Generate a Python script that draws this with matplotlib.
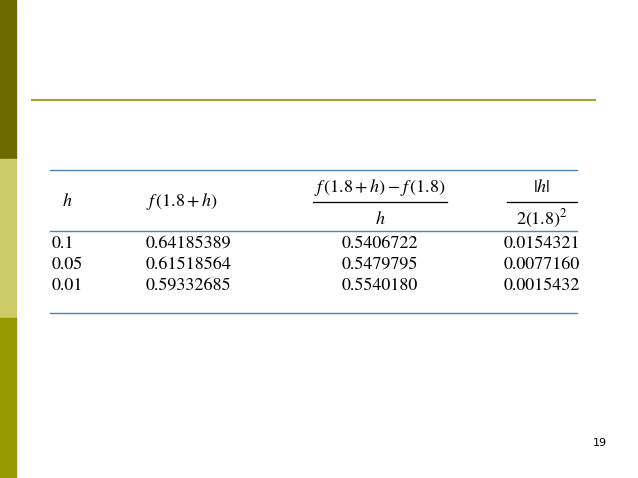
import matplotlib.pyplot as plt
from matplotlib.patches import Rectangle
from matplotlib.lines import Line2D

plt.rcParams['mathtext.fontset'] = 'stix'
plt.rcParams['font.family'] = 'STIXGeneral'

W, H = 638, 478

headers = [r"$h$", r"$f\,(1.8+h)$"]
h_vals = ["0.1", "0.05", "0.01"]
f_vals = ["0.64185389", "0.61518564", "0.59332685"]
diff_vals = ["0.5406722", "0.5479795", "0.5540180"]
err_vals = ["0.0154321", "0.0077160", "0.0015432"]
page = "19"

fig = plt.figure(figsize=(W / 100, H / 100), dpi=100)
ax = fig.add_axes([0, 0, 1, 1])
ax.set_xlim(0, W)
ax.set_ylim(H, 0)
ax.axis('off')

# left colour strip
ax.add_patch(Rectangle((0, 0), 16, 159, color='#6b6b00'))
ax.add_patch(Rectangle((0, 159), 16, 159, color='#cccc66'))
ax.add_patch(Rectangle((0, 318), 16, 160, color='#999900'))

# olive rule under title area
ax.add_line(Line2D([32, 595], [100, 100], color='#a5a52a', lw=1.5))

# table rules
for y in [170, 231, 313]:
    ax.add_line(Line2D([50, 577], [y, y], color='#4f81bd', lw=1.0))

fs = 13
ax.text(62, 202, headers[0], fontsize=fs, va='center', ha='left')
ax.text(146, 202, headers[1], fontsize=fs, va='center', ha='left')
ax.text(380, 188, r"$f\,(1.8+h)-f\,(1.8)$", fontsize=fs, va='center', ha='center')
ax.add_line(Line2D([313, 447], [202, 202], color='black', lw=0.9))
ax.text(380, 219, r"$h$", fontsize=fs, va='center', ha='center')
ax.text(542, 188, r"$|h|$", fontsize=fs, va='center', ha='center')
ax.add_line(Line2D([507, 577], [202, 202], color='black', lw=0.9))
ax.text(542, 219, r"$2(1.8)^2$", fontsize=fs, va='center', ha='center')

for i in range(len(h_vals)):
    y = 244 + i * 21
    ax.text(52, y, h_vals[i], fontsize=fs, va='center', ha='left')
    ax.text(146, y, f_vals[i], fontsize=fs, va='center', ha='left')
    ax.text(380, y, diff_vals[i], fontsize=fs, va='center', ha='center')
    ax.text(542, y, err_vals[i], fontsize=fs, va='center', ha='center')

ax.text(607, 443, page, fontsize=8, family='DejaVu Sans', va='center', ha='right')

fig.savefig("out.png", dpi=100)
